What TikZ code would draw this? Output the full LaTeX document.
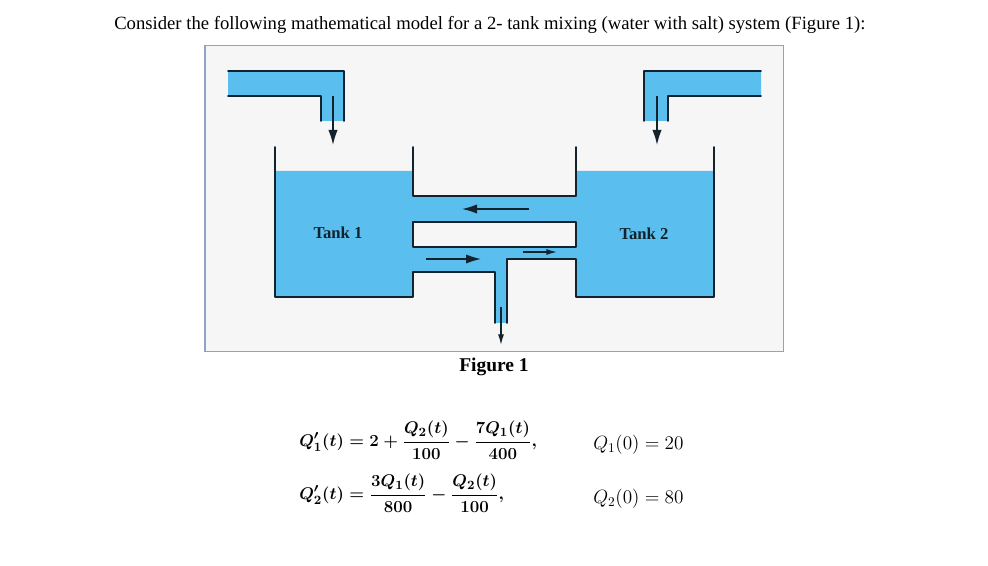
\documentclass[tikz,border=0pt]{standalone}
\usepackage{amsmath}
\usepackage{fontspec}
\setmainfont{Liberation Serif}
\usetikzlibrary{arrows.meta}
\definecolor{water}{HTML}{5ABEEE}
\definecolor{panel}{HTML}{F6F6F6}
\definecolor{panelline}{HTML}{8CA5C6}
\definecolor{wall}{HTML}{12232E}
\newcommand{\eqone}{\mbox{\boldmath$\displaystyle Q_1^{\prime}(t)=2+\frac{Q_2(t)}{100}-\frac{7Q_1(t)}{400},$}}
\newcommand{\eqtwo}{\mbox{\boldmath$\displaystyle Q_2^{\prime}(t)=\frac{3Q_1(t)}{800}-\frac{Q_2(t)}{100},$}}
\tikzset{
  wallline/.style={draw=wall, line width=1.3pt, line cap=round, line join=round},
  flow/.style={-{Latex[length=12pt,width=7pt]}, draw=wall, line width=2pt},
  thinflow/.style={-{Latex[length=8pt,width=4.5pt]}, draw=wall, line width=1pt},
  tanklabel/.style={font=\bfseries\fontsize{12.5}{14}\selectfont, text=wall},
  eqn/.style={anchor=west, inner sep=0pt, scale=1.055, font=\fontsize{12.8}{15}\selectfont},
  initval/.style={anchor=west, inner sep=0pt, font=\fontsize{14.6}{17}\selectfont}
}
\begin{document}
\begin{tikzpicture}[x=0.75pt, y=-0.75pt]
\useasboundingbox (0,0) rectangle (988,566);
\node[anchor=west, inner sep=0pt, font=\fontsize{14}{16}\selectfont] (title) at (114,25) {Consider the following mathematical model for a 2- tank mixing (water with salt) system (Figure 1):};
\draw[fill=panel, draw=panelline, line width=0.8pt] (205,45.5) rectangle (783.5,351.5);
% water
\fill[water] (275,171) -- (413,171) -- (413,196) -- (576,196) -- (576,171) -- (714,171) -- (714,297) -- (576,297) -- (576,259) -- (507,259) -- (507,323) -- (495,323) -- (495,272) -- (413,272) -- (413,297) -- (275,297) -- cycle;
\fill[water] (228,71) -- (344,71) -- (344,121) -- (321,121) -- (321,96) -- (228,96) -- cycle;
\fill[water] (761,71) -- (644,71) -- (644,121) -- (668,121) -- (668,96) -- (761,96) -- cycle;
% inner box between the channels
\draw[wallline, fill=panel] (413,222) rectangle (576,247);
% walls
\draw[wallline] (275,147) -- (275,297) -- (413,297) -- (413,272) -- (495,272) -- (495,323);
\draw[wallline] (413,147) -- (413,196) -- (576,196) -- (576,147);
\draw[wallline] (507,323) -- (507,259) -- (576,259) -- (576,297) -- (714,297) -- (714,147);
% feed pipes
\draw[wallline] (228,71) -- (344,71) -- (344,121);
\draw[wallline] (228,96) -- (321,96) -- (321,121);
\draw[wallline] (761,71) -- (644,71) -- (644,121);
\draw[wallline] (761,96) -- (668,96) -- (668,121);
% flow ends
\coordinate (in1a) at (333,96);
\coordinate (in1b) at (333,146);
\coordinate (in2a) at (657,96);
\coordinate (in2b) at (657,146);
\coordinate (backa) at (529,209);
\coordinate (backb) at (461,209);
\coordinate (fwda) at (426,259);
\coordinate (fwdb) at (482,259);
\coordinate (sidea) at (523,252);
\coordinate (sideb) at (557,252);
\coordinate (draina) at (501,307);
\coordinate (drainb) at (501,345);
\draw [flow] (in1a) -- (in1b);
\draw [flow] (in2a) -- (in2b);
\draw [flow] (backa) -- (backb);
\draw [flow] (fwda) -- (fwdb);
\draw [thinflow] (sidea) -- (sideb);
\draw [thinflow] (draina) -- (drainb);
\node[tanklabel] (tank1) at (338,233) {Tank 1};
\node[tanklabel] (tank2) at (644,234) {Tank 2};
\node[font=\bfseries\fontsize{14.6}{17}\selectfont] (figure) at (494,367) {Figure 1};
% equations
\node[eqn] (eq1) at (299,440) {\eqone};
\node[eqn] (eq2) at (299,493) {\eqtwo};
\node[initval] (init1) at (593,445) {$Q_1(0)=20$};
\node[initval] (init2) at (593,499) {$Q_2(0)=80$};
\end{tikzpicture}
\end{document}
